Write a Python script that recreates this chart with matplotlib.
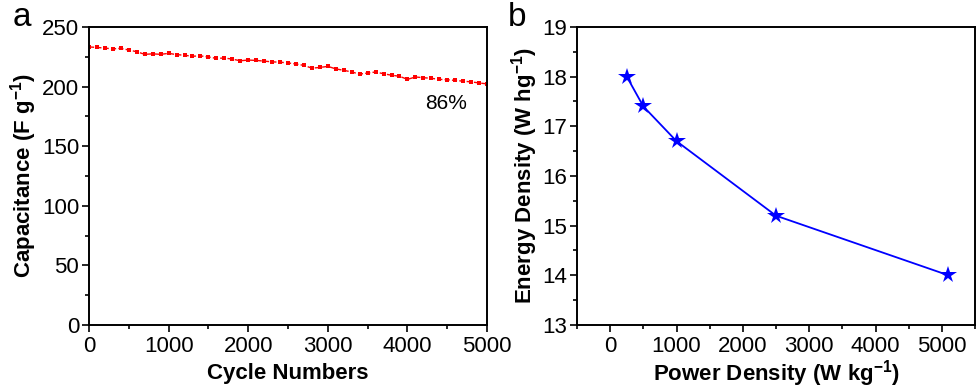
import numpy as np
import matplotlib.pyplot as plt
from matplotlib.ticker import MultipleLocator

plt.rcParams['font.family'] = ['Liberation Sans', 'DejaVu Sans']
plt.rcParams['mathtext.fontset'] = 'custom'
plt.rcParams['mathtext.rm'] = 'Liberation Sans'
plt.rcParams['mathtext.bf'] = 'Liberation Sans:bold'

# ===== DATA =====
# panel a: capacitance retention, one point every 100 cycles
cycles = np.arange(0, 5001, 100)
capacitance = [233.2, 232.8, 232.2, 231.6, 232.0, 230.6, 229.2, 227.0, 227.4, 227.0,
               227.8, 226.8, 226.2, 225.4, 225.7, 224.8, 223.6, 223.9, 223.0, 221.6,
               222.2, 221.9, 221.3, 220.7, 220.4, 219.8, 218.9, 217.7, 215.4, 216.0,
               216.9, 214.8, 213.6, 212.2, 210.4, 211.3, 212.2, 210.7, 209.5, 208.6,
               206.0, 208.0, 207.4, 206.9, 206.0, 205.7, 205.1, 204.5, 203.9, 203.0,
               202.2]
retention_label = '86%'

# panel b: Ragone plot
power_density = [250, 500, 1000, 2500, 5100]
energy_density = [18.0, 17.4, 16.7, 15.2, 14.0]

fig = plt.figure(figsize=(9.8, 3.9), dpi=100)
ax1 = fig.add_axes([0.0908, 0.1667, 0.4062, 0.7643])
ax2 = fig.add_axes([0.5888, 0.1667, 0.4061, 0.7643])

tick_fs = 16
label_fs = 16

def style_axes(ax):
    for s in ax.spines.values():
        s.set_linewidth(1.4)
    ax.tick_params(which='both', direction='out', width=1.2, labelsize=tick_fs)
    ax.tick_params(axis='x', pad=3)
    ax.tick_params(axis='y', pad=2)
    ax.tick_params(which='major', length=5)
    ax.tick_params(which='minor', length=3)

# ===== PANEL A =====
ax1.plot(cycles, capacitance, color='red', linestyle='--', linewidth=1.0,
         marker='s', markersize=2.5, markeredgewidth=0)
ax1.set_xlim(0, 5000)
ax1.set_ylim(0, 250)
ax1.xaxis.set_major_locator(MultipleLocator(1000))
ax1.xaxis.set_minor_locator(MultipleLocator(500))
ax1.yaxis.set_major_locator(MultipleLocator(50))
ax1.yaxis.set_minor_locator(MultipleLocator(25))
ax1.set_xlabel('Cycle Numbers', fontsize=label_fs, fontweight='bold', labelpad=4)
ax1.set_ylabel(r'Capacitance (F g$^{\mathbf{-1}}$)', fontsize=label_fs,
               fontweight='bold', labelpad=2)
ax1.text(4480, 186, retention_label, fontsize=15, ha='center', va='center')
style_axes(ax1)

# ===== PANEL B =====
ax2.plot(power_density, energy_density, color='blue', linewidth=1.3,
         marker='*', markersize=13, markeredgewidth=0)
ax2.set_xlim(-500, 5500)
ax2.set_ylim(13, 19)
ax2.xaxis.set_major_locator(MultipleLocator(1000))
ax2.xaxis.set_minor_locator(MultipleLocator(500))
ax2.yaxis.set_major_locator(MultipleLocator(1))
ax2.yaxis.set_minor_locator(MultipleLocator(0.5))
ax2.set_xlabel(r'Power Density (W kg$^{\mathbf{-1}}$)', fontsize=label_fs,
               fontweight='bold', labelpad=1)
ax2.set_ylabel(r'Energy Density (W hg$^{\mathbf{-1}}$)', fontsize=label_fs,
               fontweight='bold', labelpad=2)
style_axes(ax2)

fig.text(0.022, 0.955, 'a', fontsize=24, ha='center', va='center')
fig.text(0.528, 0.955, 'b', fontsize=24, ha='center', va='center')

plt.savefig('out.png', dpi=100)
